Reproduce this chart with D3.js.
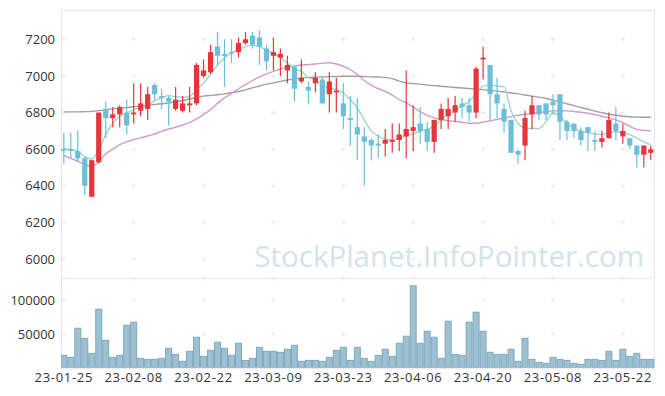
<!DOCTYPE html>
<meta charset="utf-8">
<title>Candlestick</title>
<style>
  body { margin: 0; background: #fff; }
  text { font-family: "Open Sans", sans-serif; }
</style>
<body>
<script src="https://d3js.org/d3.v7.min.js"></script>
<script>

var dates = ["23-01-25","23-01-26","23-01-27","23-01-30","23-01-31","23-02-01","23-02-02","23-02-03","23-02-06","23-02-07",
  "23-02-08","23-02-09","23-02-10","23-02-13","23-02-14","23-02-15","23-02-16","23-02-17","23-02-20","23-02-21",
  "23-02-22","23-02-23","23-02-24","23-02-27","23-02-28","23-03-02","23-03-03","23-03-06","23-03-07","23-03-08",
  "23-03-09","23-03-10","23-03-13","23-03-14","23-03-15","23-03-16","23-03-17","23-03-20","23-03-21","23-03-22",
  "23-03-23","23-03-24","23-03-27","23-03-28","23-03-29","23-03-30","23-03-31","23-04-03","23-04-04","23-04-05",
  "23-04-06","23-04-07","23-04-10","23-04-11","23-04-12","23-04-13","23-04-14","23-04-17","23-04-18","23-04-19",
  "23-04-20","23-04-21","23-04-24","23-04-25","23-04-26","23-04-27","23-04-28","23-05-02","23-05-03","23-05-04",
  "23-05-08","23-05-09","23-05-10","23-05-11","23-05-12","23-05-15","23-05-16","23-05-17","23-05-18","23-05-19",
  "23-05-22","23-05-23","23-05-24","23-05-25","23-05-26"];

var open = [6600,6600,6590,6550,6340,6530,6820,6770,6790,6800, 6790,6810,6820,6950,6890,6880,6820,6810,6840,6850,
  7000,7020,7160,7120,7130,7130,7180,7220,7210,7150, 7110,7100,7030,7050,6970,6940,6960,6980,6900,6910,
  6850,6770,6720,6670,6650,6630,6630,6640,6650,6670, 6700,6740,6710,6640,6760,6780,6800,6850,6840,6800,
  7090,7060,6900,6820,6760,6590,6620,6790,6840,6850, 6860,6900,6750,6740,6700,6720,6650,6640,6660,6740,
  6670,6660,6620,6570,6580];
var high = [6690,6690,6700,6560,6540,6800,6860,6830,6840,6870, 6960,6960,6940,6960,6930,6890,6940,6890,6940,7070,
  7090,7170,7240,7200,7200,7210,7240,7240,7250,7170, 7210,7150,7110,7060,7090,6970,7020,6990,7020,6990,
  6960,6890,6880,6720,6660,6680,6710,6740,6740,7030, 6840,6830,6750,6760,6850,6880,6890,6880,6880,7050,
  7160,7060,6990,6850,6760,6600,6810,6890,6840,6850, 6900,6900,6760,6740,6720,6720,6700,6700,6800,6830,
  6740,6660,6620,6620,6620];
var low = [6520,6550,6530,6350,6340,6520,6660,6720,6720,6680, 6740,6780,6760,6870,6820,6730,6810,6800,6800,6840,
  6990,7010,7060,6940,7070,7100,7170,7150,7060,7030, 7030,7000,6960,6860,6960,6850,6910,6850,6800,6800,
  6710,6620,6540,6400,6540,6550,6560,6580,6590,6550, 6590,6630,6590,6580,6710,6710,6750,6770,6750,6770,
  6980,6760,6770,6690,6580,6520,6540,6710,6760,6760, 6790,6650,6650,6660,6620,6590,6590,6610,6660,6650,
  6630,6600,6500,6500,6540];
var close = [6590,6590,6550,6400,6540,6800,6770,6790,6830,6730, 6800,6850,6900,6900,6880,6860,6870,6850,6850,7060,
  7030,7130,7110,7110,7130,7180,7200,7170,7160,7080, 7130,7120,7060,6930,6990,6920,6990,6850,6970,6920,
  6780,6760,6680,6640,6620,6620,6650,6650,6680,6710, 6720,6700,6640,6760,6820,6820,6840,6830,6800,7040,
  7100,6900,6850,6750,6580,6570,6770,6840,6790,6790, 6840,6750,6700,6700,6650,6690,6640,6660,6760,6700,
  6700,6620,6570,6620,6600];

var volume = [18400,15400,58700,43800,21400,87000,40800,15400,18400,63200, 67700,13900,12400,12400,13900,28900,19900,9500,24400,45300,
  16900,25900,37800,28900,18400,36300,10900,13900,30300,24400, 24400,22900,27400,33300,9500,10900,10900,9500,15400,25900,
  30300,10900,30300,13900,9500,18400,27400,16900,36300,46800, 121900,36300,54200,45300,13900,69200,19900,18400,67700,82600,
  54200,22900,19900,19900,27400,9500,43800,12400,8000,6500, 15400,12400,10900,6500,5000,12400,12400,10900,24400,10900,
  27400,16900,21400,12400,12400];

var ma5 = [6604,6598,6589,6560,6545,6598,6680,6740,6780,6798, 6815,6830,6840,6865,6880,6893,6886,6884,6888,6925,
  6960,7010,7060,7098,7125,7144,7160,7167,7160,7140, 7125,7100,7070,7040,7025,6990,6980,6950,6935,6925,
  6907,6870,6825,6760,6700,6672,6655,6652,6660,6671, 6685,6698,6710,6725,6760,6790,6811,6835,6862,6900,
  6944,6950,6945,6940,6810,6740,6716,6713,6713,6750, 6798,6780,6740,6715,6700,6690,6682,6680,6688,6695,
  6690,6680,6660,6640,6625];
var ma20 = [6567,6550,6535,6515,6508,6530,6575,6600,6625,6640, 6652,6662,6672,6683,6697,6710,6720,6732,6745,6765,
  6790,6816,6850,6880,6905,6930,6953,6975,6995,7011, 7025,7038,7047,7055,7060,7062,7065,7070,7072,7065,
  7053,7035,7007,6975,6950,6930,6916,6895,6870,6853, 6830,6805,6785,6771,6762,6755,6752,6747,6742,6742,
  6748,6755,6762,6770,6778,6785,6790,6795,6800,6805, 6809,6810,6809,6806,6802,6796,6788,6780,6770,6760,
  6745,6725,6708,6703,6701];
var ma60 = [6804,6804,6804,6805,6806,6810,6815,6820,6824,6828, 6832,6836,6840,6844,6848,6852,6858,6866,6874,6882,
  6890,6894,6897,6902,6908,6915,6924,6935,6945,6955, 6962,6970,6978,6984,6988,6992,6993,6994,6996,6997,
  6998,6998,6998,6997,6995,6994,6992,6985,6972,6962, 6958,6955,6950,6947,6944,6940,6937,6934,6931,6928,
  6925,6921,6917,6912,6907,6902,6896,6890,6884,6877, 6868,6858,6848,6838,6828,6818,6808,6799,6791,6785,
  6780,6777,6775,6774,6774];

var priceTicks = [6000, 6200, 6400, 6600, 6800, 7000, 7200];
var volumeTicks = [50000, 100000];

var width = 665, height = 396,
    plotLeft = 61, plotRight = 655,
    plotTop = 10, plotSplit = 278.3, plotBottom = 367.7;

var upColor = "#e8343b", downColor = "#6bbfd9";

var svg = d3.select("body").append("svg")
  .attr("width", width)
  .attr("height", height);

var x = d3.scaleBand()
  .domain(dates)
  .range([plotLeft - 0.7, plotRight - 0.7])
  .padding(0);
var cx = function (i) { return x(dates[i]) + x.bandwidth() / 2; };

var y = d3.scaleLinear().domain([5895, 7360]).range([plotSplit, plotTop]);
var yv = d3.scaleLinear().domain([0, 133000]).range([plotBottom, plotSplit]);

svg.append("clipPath").attr("id", "clipP")
  .append("rect").attr("x", plotLeft).attr("y", plotTop)
  .attr("width", plotRight - plotLeft).attr("height", plotSplit - plotTop);
svg.append("clipPath").attr("id", "clipV")
  .append("rect").attr("x", plotLeft).attr("y", plotSplit)
  .attr("width", plotRight - plotLeft).attr("height", plotBottom - plotSplit);

// panel frames
svg.append("rect")
  .attr("x", plotLeft + 0.5).attr("y", plotTop + 0.5)
  .attr("width", plotRight - plotLeft - 1).attr("height", plotBottom - plotTop)
  .attr("fill", "none").attr("stroke", "#e6e6e6");
svg.append("line")
  .attr("x1", plotLeft).attr("x2", plotRight).attr("y1", plotSplit).attr("y2", plotSplit)
  .attr("stroke", "#e6e6e6");

// grid crosses
var gridX = dates.filter(function (d, i) { return i % 10 === 0; });
var crossRows = priceTicks.map(y).concat(volumeTicks.map(yv)).concat([plotSplit]);
var crosses = [];
gridX.forEach(function (d) {
  crossRows.forEach(function (r) { crosses.push([x(d) + x.bandwidth() / 2, r]); });
});
svg.append("g").selectAll("path").data(crosses).enter().append("path")
  .attr("d", function (c) {
    return "M" + (c[0] - 2.5) + "," + c[1] + "H" + (c[0] + 2.5) + "M" + c[0] + "," + (c[1] - 2.5) + "V" + (c[1] + 2.5);
  })
  .attr("stroke", "#ebebeb").attr("stroke-width", 1);

// watermark
svg.append("text")
  .attr("x", 644).attr("y", 267)
  .attr("text-anchor", "end")
  .attr("font-size", 29.5)
  .attr("fill", "#d3e3ec")
  .text("StockPlanet.InfoPointer.com");

// moving averages
var price = svg.append("g").attr("clip-path", "url(#clipP)");
var idx = d3.range(dates.length);
var maLine = function (arr) {
  return d3.line().curve(d3.curveMonotoneX)
    .x(function (i) { return cx(i); })
    .y(function (i) { return y(arr[i]); })(idx);
};
[[ma60, "#a0a0a0"], [ma20, "#d49ad0"], [ma5, "#9fd6cd"]].forEach(function (m) {
  price.append("path")
    .attr("d", maLine(m[0]))
    .attr("fill", "none")
    .attr("stroke", m[1])
    .attr("stroke-width", 1.4);
});

// candles
var candle = price.selectAll("g.candle").data(idx).enter().append("g")
  .attr("class", "candle");
candle.append("line")
  .attr("x1", cx).attr("x2", cx)
  .attr("y1", function (i) { return y(high[i]); })
  .attr("y2", function (i) { return y(low[i]); })
  .attr("stroke", function (i) { return close[i] > open[i] ? upColor : downColor; })
  .attr("stroke-width", 1.2);
candle.append("rect")
  .attr("x", function (i) { return cx(i) - 2.6; })
  .attr("width", 5.2)
  .attr("y", function (i) { return y(Math.max(open[i], close[i])); })
  .attr("height", function (i) { return Math.max(1.2, Math.abs(y(open[i]) - y(close[i]))); })
  .attr("fill", function (i) { return close[i] > open[i] ? upColor : downColor; });

// volume
svg.append("g").attr("clip-path", "url(#clipV)")
  .selectAll("rect").data(idx).enter().append("rect")
  .attr("x", function (i) { return x(dates[i]) + 0.5; })
  .attr("width", x.bandwidth() - 1)
  .attr("y", function (i) { return yv(volume[i]); })
  .attr("height", function (i) { return plotBottom - yv(volume[i]); })
  .attr("fill", "#9cc1d2")
  .attr("stroke", "#80a9bc")
  .attr("stroke-width", 1);

// axes
var yAxis = svg.append("g")
  .attr("transform", "translate(" + plotLeft + ",0)")
  .call(d3.axisLeft(y).tickValues(priceTicks).tickFormat(d3.format("d")).tickSize(0).tickPadding(6));
var vAxis = svg.append("g")
  .attr("transform", "translate(" + plotLeft + ",0)")
  .call(d3.axisLeft(yv).tickValues(volumeTicks).tickFormat(d3.format("d")).tickSize(0).tickPadding(6));
var xAxis = svg.append("g")
  .attr("transform", "translate(0," + plotBottom + ")")
  .call(d3.axisBottom(x).tickValues(gridX).tickSize(0).tickPadding(5));

[yAxis, vAxis, xAxis].forEach(function (a) {
  a.select(".domain").remove();
  a.selectAll("text").attr("font-size", 13).attr("fill", "#333")
    .attr("font-family", "'Open Sans', sans-serif");
});
xAxis.selectAll("text").attr("letter-spacing", 0.7);

</script>
</body>
</html>
